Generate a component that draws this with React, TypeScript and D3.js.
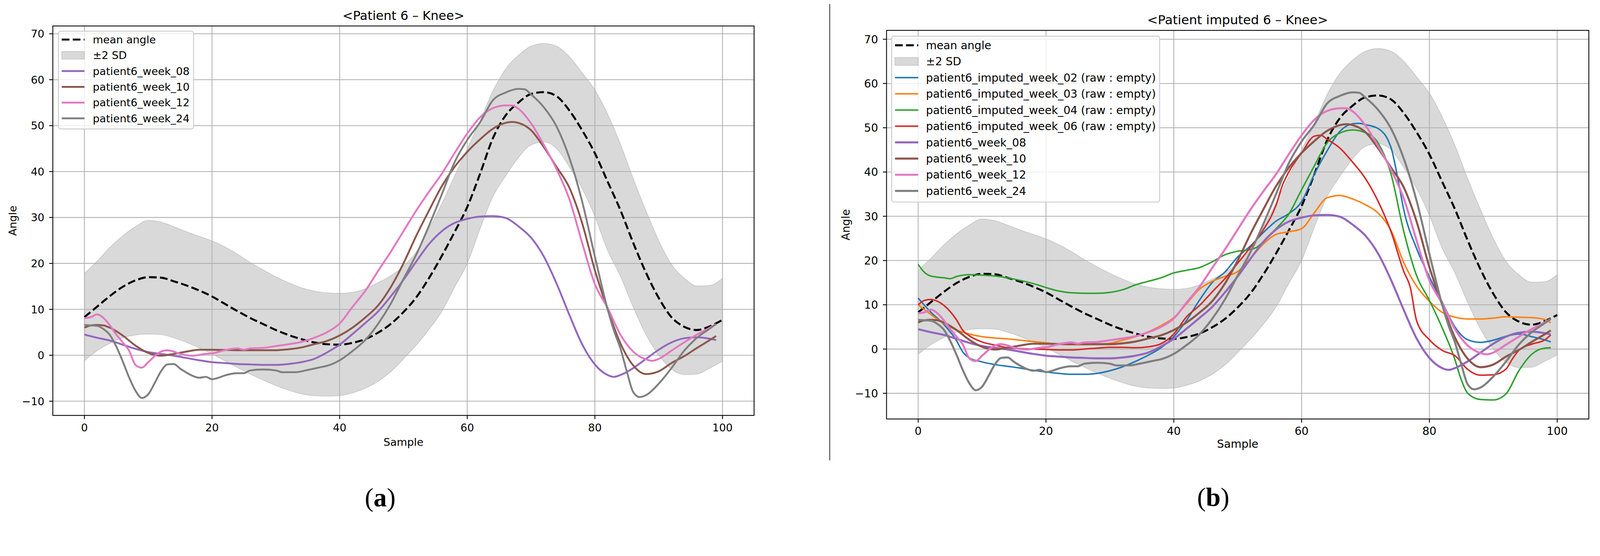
// Knee angle per patient vs. reference mean ±2 SD: raw weeks (a) and with imputed weeks (b)
import * as d3 from "d3"

type Pt = [number, number]

// x positions shared by the mean curve and the ±2 SD band
const BAND_X = [
  0, 2, 4, 6, 8, 10, 12, 14, 16, 18, 20, 22, 24, 26, 28, 30, 32, 34, 36, 38, 40, 42, 44, 46, 48, 50,
  52, 54, 56, 58, 60, 62, 64, 66, 68, 70, 72, 74, 76, 78, 80, 82, 84, 86, 88, 90, 92, 94, 96, 98, 100,
]
const MEAN_ANGLE = [
  8.3, 10.6, 12.9, 14.9, 16.3, 17.0, 16.9, 16.1, 15.2, 14.1, 12.8, 11.2, 9.6, 8.1, 6.8, 5.5, 4.4, 3.5, 2.8, 2.4, 2.3, 2.7, 3.5, 4.9, 6.8, 9.4,
  12.6, 16.8, 21.6, 26.8, 32.3, 39.5, 47.2, 52.2, 55.0, 56.9, 57.3, 56.4, 53.3, 49.0, 44.0, 37.8, 31.6, 24.5, 18.0, 12.5, 8.3, 6.2, 5.5, 6.3, 7.7,
]
const SD_UPPER = [
  17.8, 20.5, 23.5, 26.0, 28.0, 29.4, 29.0, 28.0, 26.9, 25.9, 24.9, 23.6, 22.0, 20.2, 18.6, 17.1, 15.8, 14.7, 14.0, 13.6, 13.5, 13.7, 14.5, 15.8, 17.3, 19.4,
  22.5, 27.5, 33.0, 39.0, 45.0, 51.0, 57.5, 62.3, 65.3, 67.3, 67.9, 67.3, 65.0, 61.5, 57.8, 52.5, 46.0, 38.5, 31.5, 25.0, 19.8, 16.8, 15.1, 15.2, 16.8,
]
const SD_LOWER = [
  -1.2, 1.0, 2.6, 3.8, 4.4, 4.6, 4.5, 3.8, 2.8, 1.6, 0.3, -1.2, -2.7, -4.1, -5.4, -6.6, -7.6, -8.4, -8.8, -8.9, -8.8, -8.2, -7.2, -5.7, -3.6, -0.8,
  2.2, 5.6, 9.5, 14.8, 20.0, 27.5, 34.5, 39.0, 43.0, 45.8, 46.4, 45.0, 41.0, 36.3, 30.2, 22.8, 17.2, 10.5, 4.5, 0.0, -3.0, -4.2, -4.1, -2.8, -1.3,
]

const WEEK_08: Pt[] = [
  [0, 4.5], [2, 3.8], [4, 3.2], [6, 2.3], [8, 1.4], [10, 0.7], [12, 0.3], [14, -0.1], [16, -0.6], [18, -1.1], [20, -1.5],
  [22, -1.7], [24, -1.9], [26, -2.0], [28, -2.1], [30, -2.1], [32, -1.9], [34, -1.5], [36, -0.8], [38, 0.6], [40, 2.3],
  [42, 4.6], [44, 7.0], [46, 9.5], [48, 12.8], [50, 16.4], [52, 20.4], [54, 24.2], [56, 27.0], [58, 28.8], [60, 29.7],
  [62, 30.2], [64, 30.3], [66, 29.9], [68, 28.1], [70, 25.6], [72, 21.5], [74, 15.6], [76, 8.8], [78, 2.4], [80, -2.0],
  [82, -4.3], [83, -4.7], [84, -4.3], [86, -2.8], [88, -0.8], [90, 1.2], [92, 2.8], [94, 3.7], [96, 3.9], [98, 3.6], [99, 3.3],
]
const WEEK_10: Pt[] = [
  [0, 6.0], [1, 6.5], [2, 6.6], [3, 6.5], [4, 6.0], [6, 4.3], [8, 2.1], [10, 0.5], [12, -0.1], [14, 0.3], [16, 0.8],
  [18, 1.2], [20, 1.2], [24, 1.1], [28, 1.1], [30, 1.1], [32, 1.3], [34, 1.7], [36, 2.4], [38, 3.1], [40, 4.3], [42, 6.0],
  [44, 8.2], [46, 10.8], [48, 14.8], [50, 20.0], [52, 26.0], [54, 31.5], [56, 36.8], [58, 41.0], [60, 44.3], [62, 47.0],
  [64, 49.3], [66, 50.6], [67, 50.8], [68, 50.6], [70, 49.0], [72, 45.3], [74, 41.0], [76, 36.5], [78, 28.8], [80, 18.5],
  [82, 10.0], [84, 2.6], [86, -2.2], [88, -4.1], [90, -3.5], [92, -1.7], [94, -0.2], [96, 1.6], [98, 3.3], [99, 4.2],
]
const WEEK_12: Pt[] = [
  [0, 8.1], [1, 8.3], [2, 8.9], [3, 8.1], [4, 6.5], [5, 4.5], [6, 2.8], [7, 1.0], [8, -2.1], [9, -2.7], [10, -1.5],
  [12, 0.8], [13, 1.1], [14, 0.8], [15, 0.3], [17, -0.1], [19, 0.3], [20, 0.4], [22, 1.1], [24, 1.5], [25, 1.2], [26, 1.5],
  [28, 1.6], [30, 2.0], [32, 2.4], [34, 2.9], [36, 3.8], [38, 5.0], [40, 6.9], [42, 10.5], [44, 14.0], [46, 18.3], [48, 22.5],
  [50, 27.0], [52, 31.5], [54, 35.6], [56, 39.5], [58, 44.0], [60, 48.3], [62, 51.8], [64, 53.8], [66, 54.4], [67, 54.4],
  [68, 53.7], [70, 50.5], [72, 45.8], [74, 40.5], [76, 34.0], [78, 24.5], [80, 15.5], [82, 10.3], [84, 4.5], [86, 0.8],
  [88, -0.9], [89, -1.2], [90, -0.8], [92, 1.0], [94, 2.8], [96, 4.5], [98, 6.0], [99, 6.8],
]
const WEEK_24: Pt[] = [
  [0, 6.6], [1, 6.5], [2, 6.4], [3, 5.7], [4, 4.4], [5, 1.9], [6, -1.3], [7, -4.8], [8, -7.7], [9, -9.3], [10, -8.5],
  [11, -6.1], [12, -3.5], [13, -2.0], [14, -1.9], [15, -2.9], [17, -4.5], [18, -4.9], [19, -4.7], [20, -5.2], [21, -4.9],
  [22, -4.4], [24, -3.9], [25, -3.9], [26, -3.3], [28, -3.1], [30, -3.3], [31, -3.7], [33, -3.7], [35, -3.2], [37, -2.6],
  [38, -2.3], [40, -1.1], [42, 0.9], [44, 3.3], [46, 6.8], [48, 11.2], [50, 16.6], [52, 21.9], [54, 28.2], [56, 35.0],
  [58, 42.0], [60, 46.9], [62, 50.7], [64, 55.5], [66, 57.2], [68, 58.0], [69, 57.9], [70, 56.8], [72, 54.0], [74, 49.8],
  [76, 43.0], [78, 33.5], [80, 21.5], [82, 10.0], [83, 5.3], [84, 1.5], [85, -3.5], [86, -8.0], [87, -9.1], [88, -8.7],
  [90, -6.2], [92, -2.8], [94, 1.0], [96, 3.8], [98, 5.8], [99, 6.8],
]

const IMPUTED_02: Pt[] = [
  [0, 11.5], [2, 8.3], [4, 5.6], [6, 1.9], [7, -0.7], [8, -2.0], [10, -2.9], [12, -3.5], [14, -3.9], [16, -4.3], [18, -4.8],
  [20, -5.2], [22, -5.5], [24, -5.7], [26, -5.7], [28, -5.5], [30, -4.9], [32, -4.0], [34, -2.8], [36, -1.4], [38, 0.3],
  [40, 2.8], [42, 6.5], [44, 11.0], [46, 15.0], [48, 17.4], [50, 20.8], [52, 23.3], [54, 26.3], [56, 28.9], [58, 30.6],
  [60, 33.3], [62, 39.5], [64, 44.8], [66, 49.2], [68, 50.9], [69, 51.0], [70, 50.7], [72, 49.8], [74, 45.5], [75, 39.0],
  [76, 31.4], [78, 22.7], [80, 16.3], [82, 10.6], [84, 5.0], [86, 2.1], [88, 1.5], [90, 2.0], [92, 2.9], [94, 3.4],
  [96, 2.8], [98, 2.1], [99, 1.6],
]
const IMPUTED_03: Pt[] = [
  [0, 10.0], [2, 7.8], [4, 5.8], [6, 4.3], [8, 3.4], [10, 2.8], [12, 2.5], [14, 2.3], [16, 2.0], [18, 1.7], [20, 1.4],
  [22, 1.1], [24, 1.0], [26, 1.0], [28, 1.1], [30, 1.3], [32, 2.0], [34, 2.8], [36, 3.9], [38, 5.3], [40, 7.1], [42, 10.2],
  [44, 13.5], [46, 15.3], [48, 16.4], [50, 17.5], [52, 20.5], [54, 23.7], [56, 25.9], [58, 26.5], [60, 27.2], [62, 30.8],
  [64, 34.2], [66, 34.7], [68, 33.9], [70, 32.6], [72, 30.7], [74, 26.8], [76, 19.5], [78, 14.2], [80, 10.8], [82, 8.3],
  [84, 7.2], [86, 6.8], [88, 6.8], [90, 7.0], [92, 7.3], [94, 7.2], [96, 7.1], [98, 6.7], [99, 5.9],
]
const IMPUTED_04: Pt[] = [
  [0, 19.1], [1, 17.3], [2, 16.5], [4, 16.1], [5, 15.9], [6, 16.4], [8, 16.8], [10, 16.7], [12, 16.5], [14, 16.1],
  [16, 15.5], [18, 14.8], [20, 13.9], [22, 13.1], [24, 12.7], [26, 12.6], [28, 12.6], [30, 12.8], [32, 13.4], [34, 14.5],
  [36, 15.3], [38, 16.1], [40, 17.2], [42, 17.8], [44, 18.4], [46, 19.7], [48, 21.3], [50, 22.1], [52, 22.5], [53, 23.0],
  [54, 24.2], [56, 27.2], [58, 30.5], [60, 36.0], [62, 41.4], [64, 46.6], [66, 48.8], [68, 49.5], [70, 48.9], [72, 46.5],
  [74, 39.5], [76, 26.5], [78, 16.6], [80, 11.0], [82, 4.8], [84, -2.4], [85, -7.0], [86, -10.0], [88, -11.4], [90, -11.5],
  [92, -10.1], [94, -4.9], [96, -1.2], [98, 0.2], [99, 0.3],
]
const IMPUTED_06: Pt[] = [
  [0, 10.0], [1, 11.0], [2, 11.2], [3, 10.8], [4, 9.9], [6, 6.6], [7, 4.2], [8, 3.0], [10, 1.6], [12, 0.9], [14, 0.3],
  [16, 0.1], [18, 0.0], [20, -0.1], [22, -0.2], [24, -0.2], [26, 0.0], [28, 0.2], [30, 0.4], [32, 0.4], [34, 0.3],
  [36, 0.5], [38, 1.2], [40, 3.4], [42, 7.3], [44, 9.8], [46, 12.9], [48, 15.9], [50, 19.4], [52, 23.0], [54, 26.9],
  [56, 32.5], [57, 37.0], [58, 40.0], [60, 44.3], [62, 48.1], [63, 48.3], [64, 47.4], [66, 45.4], [68, 42.2], [70, 38.5],
  [72, 33.3], [74, 26.5], [76, 17.5], [77, 14.0], [78, 6.4], [80, 2.1], [82, -0.3], [84, -1.5], [86, -4.6], [88, -5.9],
  [90, -5.8], [92, -4.5], [93, -2.2], [94, -0.3], [96, 1.1], [98, 2.0], [99, 3.2],
]

const X_TICKS = [0, 20, 40, 60, 80, 100]
const Y_TICKS = [-10, 0, 10, 20, 30, 40, 50, 60, 70]

const FONT = "DejaVu Sans"
const GRID = "#b0b0b0"
const W = 4356
const H = 1423

interface Series {
  label: string
  data: Pt[]
  color: string
  width: number
}

interface Layout {
  left: number
  top: number
  right: number
  bottom: number
  yDomain: [number, number]
  font: number
  titleFont: number
  titleY: number
  xLabelY: number
  yLabelX: number
  legend: { x: number; y: number; w: number; h: number; row0: number; gap: number; hx0: number; hx1: number; tx: number }
}

const weeks = (width: number): Series[] => [
  { label: "patient6_week_08", data: WEEK_08, color: "#9467bd", width },
  { label: "patient6_week_10", data: WEEK_10, color: "#8c564b", width },
  { label: "patient6_week_12", data: WEEK_12, color: "#e377c2", width },
  { label: "patient6_week_24", data: WEEK_24, color: "#7f7f7f", width },
]

const imputed: Series[] = [
  { label: "patient6_imputed_week_02 (raw : empty)", data: IMPUTED_02, color: "#1f77b4", width: 4 },
  { label: "patient6_imputed_week_03 (raw : empty)", data: IMPUTED_03, color: "#ff7f0e", width: 4 },
  { label: "patient6_imputed_week_04 (raw : empty)", data: IMPUTED_04, color: "#2ca02c", width: 4 },
  { label: "patient6_imputed_week_06 (raw : empty)", data: IMPUTED_06, color: "#d62728", width: 4 },
]

function Panel({ layout, title, series }: { layout: Layout; title: string; series: Series[] }) {
  const { left, top, right, bottom, font } = layout
  const x = d3.scaleLinear().domain([-4.95, 104.95]).range([left, right])
  const y = d3.scaleLinear().domain(layout.yDomain).range([bottom, top])

  const line = d3.line<Pt>().x(d => x(d[0])).y(d => y(d[1])).curve(d3.curveMonotoneX)
  const band = d3.area<number>()
    .x(d => x(d))
    .y0((_, i) => y(SD_LOWER[i]))
    .y1((_, i) => y(SD_UPPER[i]))
    .curve(d3.curveMonotoneX)
  const meanPts: Pt[] = BAND_X.map((d, i) => [d, MEAN_ANGLE[i]])
  const fmt = d3.format("d")
  const lg = layout.legend

  return (
    <g fontFamily={FONT}>
      {/* ±2 SD band */}
      <path d={band(BAND_X) ?? ""} fill="#808080" fillOpacity={0.3} stroke="#808080" strokeOpacity={0.3} strokeWidth={2} />

      {/* grid */}
      {X_TICKS.map(t => (
        <line key={`gx${t}`} x1={x(t)} x2={x(t)} y1={top} y2={bottom} stroke={GRID} strokeWidth={2.2} />
      ))}
      {Y_TICKS.map(t => (
        <line key={`gy${t}`} x1={left} x2={right} y1={y(t)} y2={y(t)} stroke={GRID} strokeWidth={2.2} />
      ))}

      {/* mean + patient curves */}
      <path d={line(meanPts) ?? ""} fill="none" stroke="#000" strokeWidth={5.5} strokeDasharray="21 9" />
      {series.map(s => (
        <path key={s.label} d={line(s.data) ?? ""} fill="none" stroke={s.color} strokeWidth={s.width} strokeLinejoin="round" />
      ))}

      {/* frame + ticks */}
      <rect x={left} y={top} width={right - left} height={bottom - top} fill="none" stroke="#000" strokeWidth={2.3} />
      {X_TICKS.map(t => (
        <g key={`tx${t}`}>
          <line x1={x(t)} x2={x(t)} y1={bottom} y2={bottom + 10} stroke="#000" strokeWidth={2.3} />
          <text x={x(t)} y={bottom + 43} fontSize={font} textAnchor="middle">{fmt(t)}</text>
        </g>
      ))}
      {Y_TICKS.map(t => (
        <g key={`ty${t}`}>
          <line x1={left - 10} x2={left} y1={y(t)} y2={y(t)} stroke="#000" strokeWidth={2.3} />
          <text x={left - 23} y={y(t)} dy="0.36em" fontSize={font} textAnchor="end">{fmt(t)}</text>
        </g>
      ))}

      {/* labels */}
      <text x={(left + right) / 2} y={layout.titleY} fontSize={layout.titleFont} textAnchor="middle">{title}</text>
      <text x={(left + right) / 2} y={layout.xLabelY} fontSize={font} textAnchor="middle">Sample</text>
      <text
        transform={`translate(${layout.yLabelX},${(top + bottom) / 2}) rotate(-90)`}
        fontSize={font}
        textAnchor="middle"
      >
        Angle
      </text>

      {/* legend */}
      <rect x={lg.x} y={lg.y} width={lg.w} height={lg.h} rx={6} fill="#fff" fillOpacity={0.8} stroke="#cccccc" strokeWidth={2.5} />
      <line x1={lg.hx0} x2={lg.hx1} y1={lg.row0} y2={lg.row0} stroke="#000" strokeWidth={5.5} strokeDasharray="21 9" />
      <text x={lg.tx} y={lg.row0} dy="0.36em" fontSize={font}>mean angle</text>
      <rect
        x={lg.hx0}
        y={lg.row0 + lg.gap - font * 0.36}
        width={lg.hx1 - lg.hx0}
        height={font * 0.72}
        fill="#808080"
        fillOpacity={0.3}
        stroke="#808080"
        strokeOpacity={0.3}
        strokeWidth={2}
      />
      <text x={lg.tx} y={lg.row0 + lg.gap} dy="0.36em" fontSize={font}>±2 SD</text>
      {series.map((s, i) => {
        const ry = lg.row0 + lg.gap * (i + 2)
        return (
          <g key={`lg${s.label}`}>
            <line x1={lg.hx0} x2={lg.hx1} y1={ry} y2={ry} stroke={s.color} strokeWidth={s.width} />
            <text x={lg.tx} y={ry} dy="0.36em" fontSize={font}>{s.label}</text>
          </g>
        )
      })}
    </g>
  )
}

const LAYOUT_A: Layout = {
  left: 143.8, top: 70.7, right: 2053, bottom: 1130.7,
  yDomain: [-13.1, 71.7],
  font: 29, titleFont: 34, titleY: 54, xLabelY: 1213, yLabelX: 45,
  legend: { x: 159, y: 85, w: 368, h: 266, row0: 107.7, gap: 42.9, hx0: 168, hx1: 230, tx: 252.5 },
}

const LAYOUT_B: Layout = {
  left: 2413.6, top: 82.7, right: 4325.6, bottom: 1140.4,
  yDomain: [-15.8, 72.0],
  font: 30, titleFont: 34.6, titleY: 66, xLabelY: 1219, yLabelX: 2313,
  legend: { x: 2427.6, y: 98.4, w: 729.6, h: 451.6, row0: 123.2, gap: 44.05, hx0: 2436.7, hx1: 2499.9, tx: 2521 },
}

export default function App() {
  return (
    <svg
      viewBox={`0 0 ${W} ${H}`}
      preserveAspectRatio="xMinYMin meet"
      style={{ position: "absolute", left: 0, top: 0, width: "100%", height: "auto", display: "block", background: "#fff" }}
    >
      <rect width={W} height={H} fill="#fff" />
      <Panel layout={LAYOUT_A} title="<Patient 6 – Knee>" series={weeks(5)} />
      <line x1={2259} x2={2259} y1={11} y2={1253} stroke="#222" strokeWidth={2} />
      <Panel layout={LAYOUT_B} title="<Patient imputed 6 – Knee>" series={[...imputed, ...weeks(5.5)]} />
      <text x={1035} y={1378} fontFamily="Liberation Serif" fontSize={72} textAnchor="middle">
        (<tspan fontWeight="bold">a</tspan>)
      </text>
      <text x={3303} y={1377} fontFamily="Liberation Serif" fontSize={72} textAnchor="middle">
        (<tspan fontWeight="bold">b</tspan>)
      </text>
    </svg>
  )
}
